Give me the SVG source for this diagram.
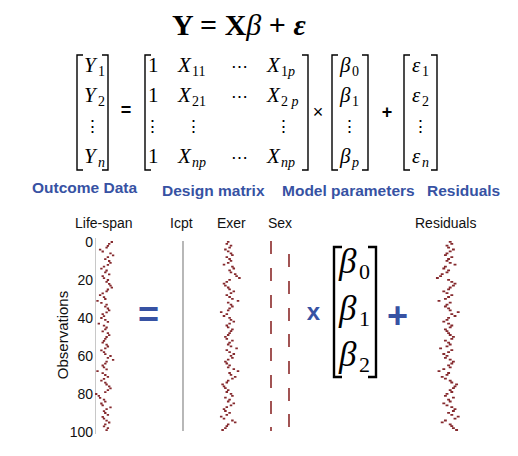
<svg xmlns="http://www.w3.org/2000/svg" width="518" height="456" viewBox="0 0 518 456">
<style>
.m{font-family:"Liberation Serif","Times New Roman",serif;font-size:21px;fill:#000}
.i{font-style:italic}
.s{font-size:14px}
.e{font-family:"DejaVu Serif","Liberation Serif",serif;font-size:17px;text-anchor:middle}
.br{fill:none;stroke:#000;stroke-width:1.4}
.bb{fill:none;stroke:#000;stroke-width:2.4}
.lab{font-family:"Liberation Sans",Arial,sans-serif;font-weight:bold;font-size:15.5px;fill:#3752a3}
.hd{font-family:"Liberation Sans",Arial,sans-serif;font-size:14px;fill:#111}
.tk{font-family:"Liberation Sans",Arial,sans-serif;font-size:14px;fill:#111;text-anchor:end}
.op{font-family:"Liberation Sans",Arial,sans-serif;font-weight:bold;fill:#3752a3;text-anchor:middle}
.dots{fill:none;stroke:#852a2e;stroke-width:1.8;stroke-linecap:square}
.sex{fill:none;stroke:#8b2a2a;stroke-width:1.6}
</style>
<defs>
<path id="pts" d="M6 241h0M4 242.9h0M3 244.8h0M2 246.7h0M-3 248.6h0M-1 250.5h0M5 252.4h0M7 254.3h0M3 256.2h0M1 258.1h0M4 260h0M5 261.9h0M3 263.8h0M0 265.7h0M-2 267.6h0M2 269.5h0M1 271.4h0M4 273.3h0M-1 275.2h0M0 277.1h0M3 279h0M2 280.9h0M4 282.8h0M5 284.7h0M6 286.6h0M3 288.5h0M2 290.4h0M-1 292.3h0M-3 294.2h0M0 296.1h0M1 298h0M-5 299.9h0M-2 301.8h0M2 303.7h0M1 305.6h0M3 307.5h0M4 309.4h0M2 311.3h0M-1 313.2h0M0 315.1h0M-2 317h0M1 318.9h0M3 320.8h0M-4 322.7h0M0 324.6h0M2 326.5h0M1 328.4h0M-1 330.3h0M3 332.2h0M4 334.1h0M2 336h0M1 337.9h0M0 339.8h0M-1 341.7h0M2 343.6h0M3 345.5h0M1 347.4h0M-2 349.3h0M0 351.2h0M1 353.1h0M5 355h0M3 356.9h0M7 358.8h0M2 360.7h0M1 362.6h0M-1 364.5h0M0 366.4h0M2 368.3h0M-5 370.2h0M-1 372.1h0M1 374h0M3 375.9h0M0 377.8h0M-2 379.7h0M1 381.6h0M2 383.5h0M4 385.4h0M5 387.3h0M3 389.2h0M1 391.1h0M-6 393h0M-4 394.9h0M-3 396.8h0M0 398.7h0M1 400.6h0M-2 402.5h0M-1 404.4h0M5 406.3h0M2 408.2h0M0 410.1h0M1 412h0M3 413.9h0M-1 415.8h0M0 417.7h0M2 419.6h0M4 421.5h0M1 423.4h0M0 425.3h0M3 427.2h0M2 429.1h0"/>
</defs>

<g id="equation">
<text x="172" y="35" font-family="Liberation Serif,Times New Roman,serif" font-weight="bold" font-size="30">Y = X<tspan font-style="italic" font-weight="normal">β</tspan> + <tspan font-style="italic">ε</tspan></text>
</g>

<g id="outcome-vector">
<path class="br" d="M83 55H77V170H83M102 55H108V170H102"/>
<text class="m i" x="84" y="72">Y</text><text class="m s" x="98" y="76">1</text>
<text class="m i" x="84" y="102">Y</text><text class="m s" x="98" y="106">2</text>
<text class="e" x="92" y="132">⋮</text>
<text class="m i" x="84" y="163">Y</text><text class="m s i" x="98" y="167">n</text>
</g>

<g id="design-matrix">
<path class="br" d="M151 55H145V170H151M302 55H308V170H302"/>
<text class="m" x="148" y="72">1</text>
<text class="m" x="148" y="102">1</text>
<text class="m" x="148" y="163">1</text>
<text class="e" x="152" y="132">⋮</text>
<text class="m i" x="178" y="72">X</text><text class="m s" x="192" y="76">11</text>
<text class="m i" x="178" y="102">X</text><text class="m s" x="192" y="106">21</text>
<text class="e" x="193" y="132">⋮</text>
<text class="m i" x="178" y="163">X</text><text class="m s i" x="192" y="167">np</text>
<text class="e" x="239" y="72">⋯</text>
<text class="e" x="239" y="102">⋯</text>
<text class="e" x="239" y="163">⋯</text>
<text class="m i" x="267" y="72">X</text><text class="m s" x="281" y="76">1<tspan font-style="italic">p</tspan></text>
<text class="m i" x="267" y="102">X</text><text class="m s" x="281" y="106">2 <tspan font-style="italic">p</tspan></text>
<text class="e" x="283" y="132">⋮</text>
<text class="m i" x="267" y="163">X</text><text class="m s i" x="281" y="167">np</text>
</g>

<g id="parameter-vector">
<path class="br" d="M338 55H332V170H338M362 55H368V170H362"/>
<text class="m i" x="340" y="72">β</text><text class="m s" x="352" y="76">0</text>
<text class="m i" x="340" y="102">β</text><text class="m s" x="352" y="106">1</text>
<text class="e" x="349" y="132">⋮</text>
<text class="m i" x="340" y="163">β</text><text class="m s i" x="352" y="167">p</text>
</g>

<g id="residual-vector">
<path class="br" d="M410 55H404V170H410M431 55H437V170H431"/>
<text class="m i" x="412" y="72">ε</text><text class="m s" x="422" y="76">1</text>
<text class="m i" x="412" y="102">ε</text><text class="m s" x="422" y="106">2</text>
<text class="e" x="420" y="132">⋮</text>
<text class="m i" x="412" y="163">ε</text><text class="m s i" x="422" y="167">n</text>
</g>

<g id="operators-top" font-family="Liberation Sans,Arial,sans-serif" font-size="18" text-anchor="middle">
<text x="126" y="116" font-weight="bold">=</text>
<text x="318" y="118">×</text>
<text x="387" y="118" font-weight="bold">+</text>
</g>

<g id="labels">
<text class="lab" x="32" y="193">Outcome Data</text>
<text class="lab" x="162" y="196">Design matrix</text>
<text class="lab" x="282" y="196">Model parameters</text>
<text class="lab" x="427" y="196">Residuals</text>
</g>

<g id="headers">
<text class="hd" x="75" y="228">Life-span</text>
<text class="hd" x="170" y="228">Icpt</text>
<text class="hd" x="217" y="228">Exer</text>
<text class="hd" x="268" y="228">Sex</text>
<text class="hd" x="415" y="228">Residuals</text>
</g>

<g id="axis">
<line x1="95.5" y1="238" x2="95.5" y2="434" stroke="#c8c8c8" stroke-width="1"/>
<text class="tk" x="93" y="247">0</text>
<text class="tk" x="93" y="285">20</text>
<text class="tk" x="93" y="323">40</text>
<text class="tk" x="93" y="361">60</text>
<text class="tk" x="93" y="399">80</text>
<text class="tk" x="93" y="437">100</text>
<text font-family="Liberation Sans,Arial,sans-serif" font-size="15" fill="#111" text-anchor="middle" transform="translate(68 335) rotate(-90)">Observations</text>
</g>

<g id="lifespan-data"><use class="dots" href="#pts" transform="translate(104 1) scale(1.3 1)"/></g>
<g id="op-equals"><text class="op" x="148.5" y="327" font-size="36">=</text></g>
<g id="icpt-data"><line x1="183" y1="241" x2="183" y2="431" stroke="#888" stroke-width="1.2"/></g>
<g id="exer-data"><use class="dots" href="#pts" transform="translate(231 671) scale(-1.4 -1)"/></g>
<g id="sex-data">
<path class="sex" d="M271 241V254M271 268V281M271 295V308M271 321V334M271 348V361M271 375V388M271 401V414M271 427V431"/>
<path class="sex" d="M289 254V267M289 281V294M289 308V321M289 334V347M289 361V374M289 388V401M289 414V427"/>
</g>
<g id="op-times"><text class="op" x="313.5" y="320" font-size="24">x</text></g>
<g id="beta-vector">
<path class="bb" d="M342 247H334V377H342M368 247H376V377H368"/>
<g font-family="Liberation Serif,Times New Roman,serif">
<text x="339" y="273" font-size="35" font-style="italic">β</text><text x="359" y="279" font-size="22">0</text>
<text x="339" y="320" font-size="35" font-style="italic">β</text><text x="359" y="326" font-size="22">1</text>
<text x="339" y="366" font-size="35" font-style="italic">β</text><text x="359" y="372" font-size="22">2</text>
</g>
</g>
<g id="op-plus"><text class="op" x="397.5" y="328" font-size="36">+</text></g>
<g id="residual-data"><use class="dots" href="#pts" transform="translate(447 671) scale(1.6 -1)"/></g>
</svg>
